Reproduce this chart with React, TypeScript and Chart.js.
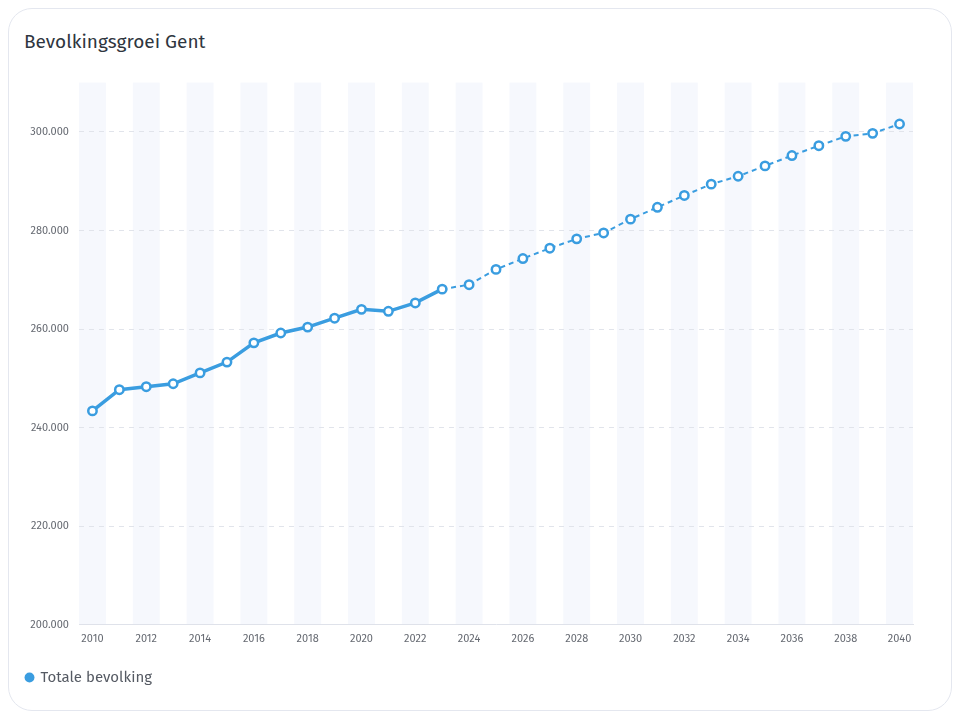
import React, { useEffect, useRef } from "react";
import { Chart, registerables } from "chart.js";

Chart.register(...registerables);

const years: string[] = [
  "2010","2011","2012","2013","2014","2015","2016","2017","2018","2019","2020",
  "2021","2022","2023","2024","2025","2026","2027","2028","2029","2030",
  "2031","2032","2033","2034","2035","2036","2037","2038","2039","2040",
];
const population: number[] = [
  243400, 247700, 248300, 248900, 251100, 253300, 257200, 259200, 260400, 262200, 264000,
  263600, 265300, 268100, 269000, 272100, 274300, 276400, 278300, 279500, 282300,
  284700, 287100, 289400, 291000, 293100, 295200, 297200, 299100, 299700, 301600,
];
const yTickValues: number[] = [200000, 220000, 240000, 260000, 280000, 300000];
const lastObservedIndex = 13; // 2023
const seriesLabel = "Totale bevolking";
const chartTitle = "Bevolkingsgroei Gent";
const yMin = 200000;
const yMax = 310000;

const FONT = "'Fira Sans', Lato, 'Noto Sans', sans-serif";
const BLUE = "#3a9de0";

const bandPlugin = {
  id: "bands",
  beforeDraw(chart: any) {
    const { ctx, chartArea, scales } = chart;
    const x = scales.x;
    const n = chart.data.labels.length;
    const w = (chartArea.right - chartArea.left) / n;
    ctx.save();
    ctx.fillStyle = "#f6f8fd";
    for (let i = 0; i < n; i += 2) {
      const cx = x.getPixelForValue(i);
      ctx.fillRect(cx - w / 2, chartArea.top, w, chartArea.bottom - chartArea.top);
    }
    ctx.restore();
  },
};

const fmt = (v: number) => {
  const s = String(Math.round(v));
  return s.replace(/\B(?=(\d{3})+(?!\d))/g, ".");
};

export default function App() {
  const ref = useRef<HTMLCanvasElement | null>(null);
  useEffect(() => {
    if (!ref.current) return;
    const chart = new Chart(ref.current, {
      type: "line",
      data: {
        labels: years,
        datasets: [
          {
            label: seriesLabel,
            data: population,
            borderColor: BLUE,
            backgroundColor: BLUE,
            borderWidth: 3.5,
            pointRadius: 4.2,
            pointBorderWidth: 2.5,
            pointBackgroundColor: "#ffffff",
            pointBorderColor: BLUE,
            tension: 0,
            segment: {
              borderDash: (c: any) => (c.p0DataIndex >= lastObservedIndex ? [5, 4] : undefined),
              borderWidth: (c: any) => (c.p0DataIndex >= lastObservedIndex ? 2 : 3.5),
            },
          } as any,
        ],
      },
      options: {
        animation: false,
        responsive: true,
        maintainAspectRatio: false,
        layout: { padding: { top: 11, right: 38, left: 6, bottom: 0 } },
        plugins: {
          title: { display: false },
          tooltip: { enabled: false },
          legend: {
            position: "bottom",
            align: "start",
            labels: {
              usePointStyle: true,
              pointStyle: "circle",
              boxWidth: 7,
              boxHeight: 7,
              color: "#555a63",
              font: { family: FONT, size: 15 },
              padding: 11,
              generateLabels: () => [
                {
                  text: seriesLabel,
                  fillStyle: BLUE,
                  strokeStyle: BLUE,
                  lineWidth: 0,
                  pointStyle: "circle",
                  fontColor: "#555a63",
                  datasetIndex: 0,
                  hidden: false,
                },
              ],
            },
          },
        },
        scales: {
          x: {
            type: "category",
            offset: true,
            grid: { display: false, drawTicks: false },
            border: { display: true, color: "#dfe2ea", width: 1 },
            afterFit: (s: any) => {
              s.height += 5;
            },
            ticks: {
              autoSkip: false,
              maxRotation: 0,
              padding: 8,
              color: "#666a72",
              font: { family: FONT, size: 11 },
              callback: (_v: any, i: number) => (i % 2 === 0 ? years[i] : ""),
            },
          },
          y: {
            type: "linear",
            min: yMin,
            max: yMax,
            afterBuildTicks: (s: any) => {
              s.ticks = yTickValues.map((v) => ({ value: v }));
            },
            afterFit: (s: any) => {
              s.width = 64;
            },
            ticks: {
              autoSkip: false,
              padding: 10,
              color: "#666a72",
              font: { family: FONT, size: 11 },
              callback: (v: any) => fmt(Number(v)),
            },
            grid: {
              color: "#e1e4eb",
              drawTicks: false,
              lineWidth: 1,
            },
            border: { display: false, dash: [5, 5] },
          },
        },
      },
      plugins: [bandPlugin],
    });
    return () => chart.destroy();
  }, []);

  return (
    <div
      style={{
        position: "relative",
        width: 944,
        height: 703,
        boxSizing: "border-box",
        border: "1px solid #e4e7ef",
        borderRadius: 24,
        background: "#fff",
        fontFamily: FONT,
      }}
    >
      <div
        style={{
          position: "absolute",
          left: 15,
          top: 22,
          fontSize: 19,
          color: "#2f3640",
          lineHeight: "22px",
        }}
      >
        {chartTitle}
      </div>
      <div style={{ position: "absolute", left: 0, right: 0, top: 57, bottom: 15 }}>
        <canvas ref={ref} />
      </div>
    </div>
  );
}
